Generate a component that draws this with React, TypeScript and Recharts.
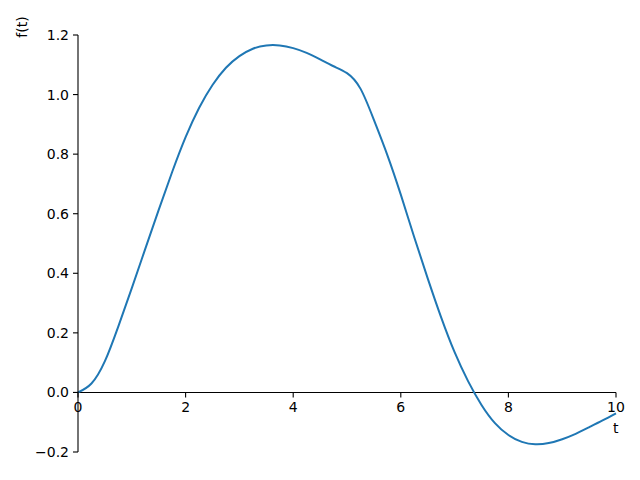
import React from "react";
import {
  ComposedChart,
  Line,
  XAxis,
  YAxis,
  ReferenceLine,
  ReferenceDot,
} from "recharts";

// sample times and read-off values of f(t)
const tValues = [
  0, 0.25, 0.5, 0.75, 1, 1.25, 1.5, 1.75, 2, 2.25, 2.5, 2.75, 3, 3.25, 3.5,
  3.75, 4, 4.25, 4.5, 4.75, 5, 5.25, 5.5, 5.75, 6, 6.25, 6.5, 6.75, 7, 7.25,
  7.5, 7.75, 8, 8.25, 8.5, 8.75, 9, 9.25, 9.5, 9.75, 10,
];
const fValues = [
  0, 0.03, 0.105, 0.222, 0.35, 0.482, 0.613, 0.74, 0.857, 0.955, 1.032, 1.09,
  1.129, 1.154, 1.165, 1.165, 1.156, 1.14, 1.118, 1.095, 1.072, 1.02, 0.915,
  0.797, 0.664, 0.521, 0.383, 0.252, 0.135, 0.038, -0.042, -0.103, -0.143,
  -0.166, -0.174, -0.17, -0.157, -0.139, -0.117, -0.094, -0.07,
];
const xTicks = [0, 2, 4, 6, 8, 10];
const yTicks = [-0.2, 0, 0.2, 0.4, 0.6, 0.8, 1.0, 1.2];

const data = tValues.map((t, i) => ({ t, f: fValues[i] }));

const font = "DejaVu Sans";
const fmt = (v: number) => (v < 0 ? "\u2212" + Math.abs(v).toFixed(1) : v.toFixed(1));

export default function App() {
  return (
    <div style={{ position: "absolute", left: 0, top: 0, width: 640, height: 480 }}>
      <ComposedChart
        width={640}
        height={480}
        data={data}
        margin={{ top: 35, right: 24, bottom: 28, left: 0 }}
        style={{ fontFamily: font }}
      >
        <XAxis dataKey="t" type="number" domain={[0, 10]} hide />
        <YAxis
          type="number"
          domain={[-0.2, 1.2]}
          ticks={yTicks}
          width={78}
          tickFormatter={fmt}
          tickSize={5}
          tickMargin={4}
          axisLine={{ stroke: "#000", strokeWidth: 1.1 }}
          tickLine={{ stroke: "#000", strokeWidth: 1.1 }}
          tick={{ fill: "#000", fontSize: 14, fontFamily: font }}
          interval={0}
        />
        <ReferenceLine y={0} stroke="#000" strokeWidth={1.1} />
        {xTicks.map((x) => (
          <ReferenceDot
            key={x}
            x={x}
            y={0}
            shape={(p: any) => (
              <g>
                <line x1={p.cx} y1={p.cy} x2={p.cx} y2={p.cy + 5} stroke="#000" strokeWidth={1.1} />
                <text
                  x={p.cx}
                  y={p.cy + 20}
                  textAnchor="middle"
                  fontSize={14}
                  fontFamily={font}
                  fill="#000"
                >
                  {x}
                </text>
              </g>
            )}
          />
        ))}
        <Line
          dataKey="f"
          type="natural"
          stroke="#1f77b4"
          strokeWidth={2}
          dot={false}
          isAnimationActive={false}
        />
      </ComposedChart>
      <div
        style={{
          position: "absolute",
          left: 613,
          top: 420,
          fontFamily: font,
          fontSize: 14,
          lineHeight: "16px",
        }}
      >
        t
      </div>
      <div
        style={{
          position: "absolute",
          left: 6,
          top: 19,
          width: 32,
          textAlign: "center",
          fontFamily: font,
          fontSize: 14,
          lineHeight: "16px",
          transform: "rotate(-90deg)",
        }}
      >
        f(t)
      </div>
    </div>
  );
}
